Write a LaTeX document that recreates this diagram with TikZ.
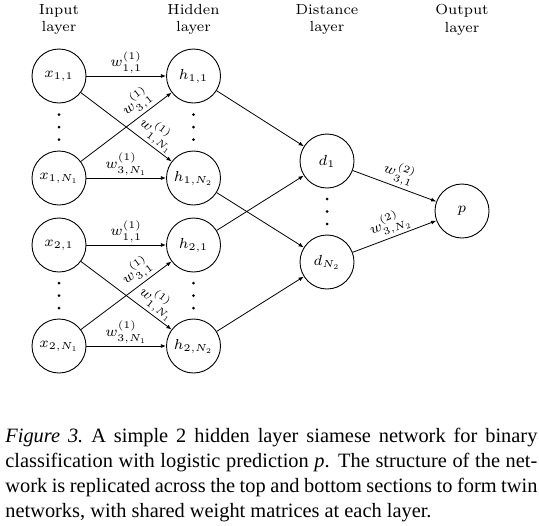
\RequirePackage{fix-cm}
\documentclass[tikz,border=0pt]{standalone}
\usepackage{fontspec}
\newfontfamily\capfont{Liberation Serif}
\usetikzlibrary{arrows.meta}
\newcommand{\dgfont}{\fontsize{7.3}{8.7}\selectfont}
\begin{document}
\begin{tikzpicture}[x=0.5pt,y=-0.5pt,
  neuron/.style={circle,draw,line width=0.45pt,minimum size=27pt,inner sep=0pt,font=\dgfont},
  hdr/.style={align=center,anchor=north,inner sep=0pt,font=\dgfont},
  conn/.style={-{Latex[length=2.6pt,width=2pt]},line width=0.4pt},
  wlab/.style={font=\dgfont,inner sep=1pt},
  dotmark/.style={fill=black}]
\fill[white] (0,0) rectangle (539,525);
\useasboundingbox (0,0) rectangle (539,525);

% headers
\node[hdr] (hin) at (59,4) {Input\\layer};
\node[hdr] (hhid) at (193.5,4) {Hidden\\layer};
\node[hdr] (hdist) at (327,4) {Distance\\layer};
\node[hdr] (hout) at (462,4) {Output\\layer};

% neurons
\node[neuron] (x11) at (59,76) {$x_{1,1}$};
\node[neuron] (x1N) at (59,178) {$x_{1,N_1}$};
\node[neuron] (x21) at (59,245) {$x_{2,1}$};
\node[neuron] (x2N) at (59,346) {$x_{2,N_1}$};
\node[neuron] (h11) at (193.5,76) {$h_{1,1}$};
\node[neuron] (h1N) at (193.5,178) {$h_{1,N_2}$};
\node[neuron] (h21) at (193.5,245) {$h_{2,1}$};
\node[neuron] (h2N) at (193.5,346) {$h_{2,N_2}$};
\node[neuron] (d1) at (327,161) {$d_1$};
\node[neuron] (dN) at (327,262) {$d_{N_2}$};
\node[neuron] (p) at (462,211) {$p$};

% dots
\foreach \cx/\cy in {59/127, 193.5/127, 59/295.5, 193.5/295.5, 327/211.5}{
  \foreach \dy in {-12.5,0,12.5}{
    \fill[dotmark] (\cx,\cy+\dy) circle (0.75pt);
  }
}

% top block
\draw[conn] (x11) -- node[wlab,above]{$w^{(1)}_{1,1}$} (h11);
\draw[conn] (x11) -- node[wlab,above,sloped,pos=0.76]{$w^{(1)}_{1,N_1}$} (h1N);
\draw[conn] (x1N) -- node[wlab,above,sloped,pos=0.7]{$w^{(1)}_{3,1}$} (h11);
\draw[conn] (x1N) -- node[wlab,above]{$w^{(1)}_{3,N_1}$} (h1N);
% bottom block
\draw[conn] (x21) -- node[wlab,above]{$w^{(1)}_{1,1}$} (h21);
\draw[conn] (x21) -- node[wlab,above,sloped,pos=0.76]{$w^{(1)}_{1,N_1}$} (h2N);
\draw[conn] (x2N) -- node[wlab,above,sloped,pos=0.7]{$w^{(1)}_{3,1}$} (h21);
\draw[conn] (x2N) -- node[wlab,above]{$w^{(1)}_{3,N_1}$} (h2N);
% hidden to distance
\draw[conn] (h11) -- (d1);
\draw[conn] (h21) -- (d1);
\draw[conn] (h1N) -- (dN);
\draw[conn] (h2N) -- (dN);
% distance to output
\draw[conn] (d1) -- node[wlab,above,sloped]{$w^{(2)}_{3,1}$} (p);
\draw[conn] (dN) -- node[wlab,above,sloped]{$w^{(2)}_{3,N_2}$} (p);

% caption
\node[anchor=north west,inner sep=0pt,text width=266pt,align=justify,
  font=\capfont\fontsize{10.19}{12.46}\selectfont] (cap) at (5,428)
{\textit{Figure 3.}\ A simple 2 hidden layer siamese network for binary\linebreak
classification with logistic prediction \textit{p}.  The structure of the net-\linebreak
work is replicated across the top and bottom sections to form twin\linebreak
networks, with shared weight matrices at each layer.};
\end{tikzpicture}
\end{document}
